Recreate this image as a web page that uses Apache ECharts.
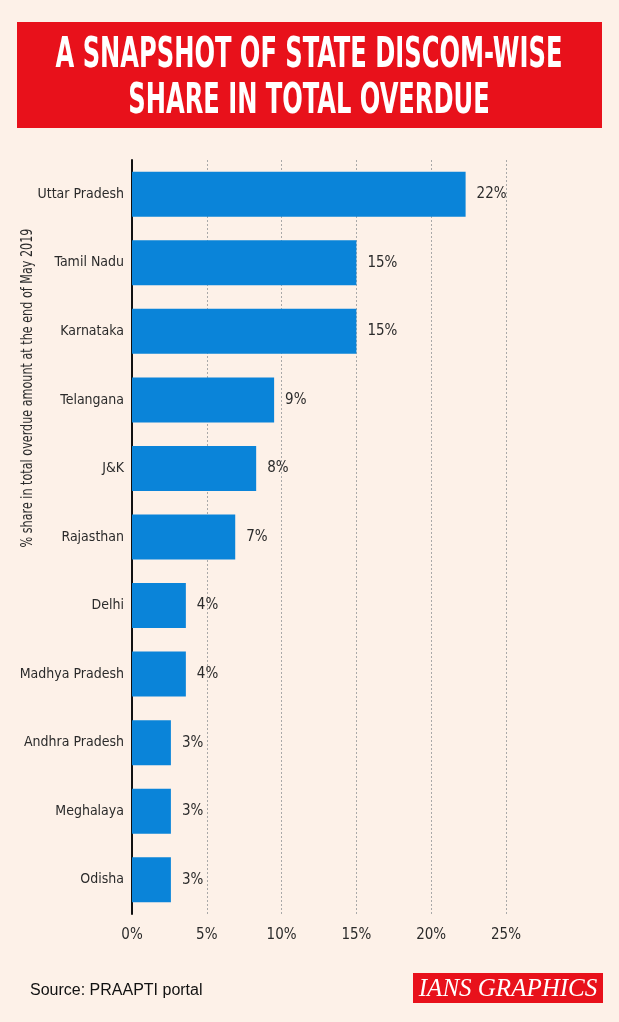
<!DOCTYPE html>
<html>
<head>
<meta charset="utf-8">
<script src="https://cdn.jsdelivr.net/npm/echarts@6/dist/echarts.min.js"></script>
<style>
  html, body { margin: 0; padding: 0; background: #fdf1e8; }
  #chart { width: 619px; height: 1022px; }
</style>
</head>
<body>
<div id="chart"></div>
<script>
// data
const states = ['Uttar Pradesh', 'Tamil Nadu', 'Karnataka', 'Telangana', 'J&K', 'Rajasthan',
  'Delhi', 'Madhya Pradesh', 'Andhra Pradesh', 'Meghalaya', 'Odisha'];
const shares = [22.3, 15.0, 15.0, 9.5, 8.3, 6.9, 3.6, 3.6, 2.6, 2.6, 2.6];
const shareLabels = ['22%', '15%', '15%', '9%', '8%', '7%', '4%', '4%', '3%', '3%', '3%'];
const xTicks = [0, 5, 10, 15, 20, 25];

const narrow = '"Liberation Sans Narrow", "DejaVu Sans Condensed", sans-serif';
const ink = '#2b2b2b';

const chart = echarts.init(document.getElementById('chart'));

const option = {
  backgroundColor: '#fdf1e8',
  animation: false,
  grid: { left: 132, right: 113, top: 160, bottom: 108, outerBoundsMode: 'none' },
  xAxis: {
    type: 'value',
    min: xTicks[0],
    max: xTicks[xTicks.length - 1],
    interval: xTicks[1] - xTicks[0],
    axisLine: { show: false },
    axisTick: { show: false },
    axisLabel: {
      formatter: '{value}%',
      color: ink,
      fontFamily: narrow,
      fontSize: 15,
      margin: 14
    },
    splitLine: {
      show: true,
      lineStyle: { color: '#a9a9a9', type: [2, 2], width: 1 }
    }
  },
  yAxis: {
    type: 'category',
    data: states,
    inverse: true,
    axisTick: { show: false },
    axisLine: { show: true, lineStyle: { color: '#111', width: 2 } },
    axisLabel: {
      color: ink,
      fontFamily: narrow,
      fontSize: 14,
      margin: 8
    }
  },
  series: [{
    type: 'bar',
    data: shares,
    barWidth: 45,
    itemStyle: { color: '#0a84d9' },
    label: {
      show: true,
      position: 'right',
      distance: 11,
      color: ink,
      fontFamily: narrow,
      fontSize: 15,
      formatter: (p) => shareLabels[p.dataIndex]
    }
  }],
  graphic: [
    {
      type: 'rect',
      shape: { x: 17, y: 22, width: 585, height: 106 },
      style: { fill: '#e8111b' }
    },
    {
      type: 'text',
      x: 309, y: 56,
      scaleX: 0.625,
      style: {
        text: 'A SNAPSHOT OF STATE DISCOM-WISE',
        fill: '#fff',
        font: 'bold 43px ' + narrow,
        align: 'center',
        verticalAlign: 'middle'
      }
    },
    {
      type: 'text',
      x: 309, y: 102,
      scaleX: 0.625,
      style: {
        text: 'SHARE IN TOTAL OVERDUE',
        fill: '#fff',
        font: 'bold 43px ' + narrow,
        align: 'center',
        verticalAlign: 'middle'
      }
    },
    {
      type: 'text',
      x: 28, y: 388,
      rotation: Math.PI / 2,
      scaleX: 0.83,
      style: {
        text: '% share in total overdue amount at the end of May 2019',
        fill: ink,
        font: '15px ' + narrow,
        align: 'center',
        verticalAlign: 'middle'
      }
    },
    {
      type: 'text',
      x: 30, y: 991,
      style: {
        text: 'Source: PRAAPTI portal',
        fill: '#111',
        font: '16px "Liberation Sans", Arial, sans-serif',
        verticalAlign: 'middle'
      }
    },
    {
      type: 'rect',
      shape: { x: 413, y: 973, width: 190, height: 30 },
      style: { fill: '#e8111b' }
    },
    {
      type: 'text',
      x: 508, y: 989,
      style: {
        text: 'IANS GRAPHICS',
        fill: '#fff',
        font: 'italic 25px "Liberation Serif", serif',
        align: 'center',
        verticalAlign: 'middle'
      }
    }
  ]
};

chart.setOption(option);
</script>
</body>
</html>
